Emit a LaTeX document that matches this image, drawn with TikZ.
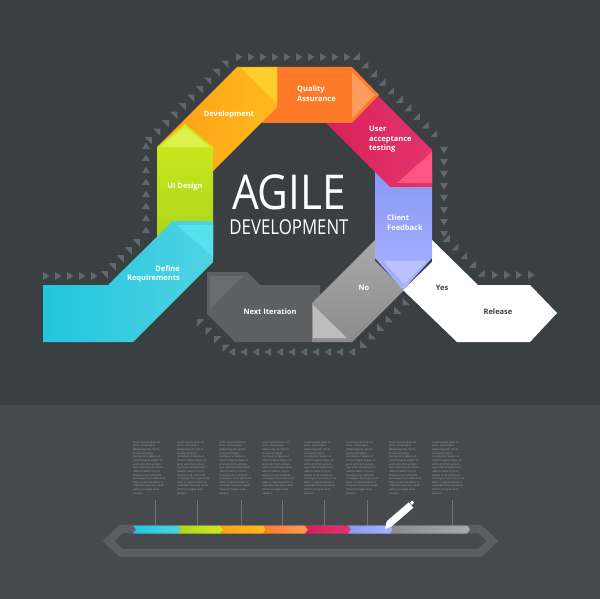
\documentclass[tikz,border=0pt]{standalone}
\usepackage{fontspec}
\setmainfont{Open Sans}
\usetikzlibrary{positioning}

\definecolor{bgtop}{HTML}{3A3F42}
\definecolor{bgbot}{HTML}{464A4D}
\definecolor{markgray}{HTML}{62676A}
\definecolor{cyA}{HTML}{22C5DE}
\definecolor{cyB}{HTML}{4FD3E2}
\definecolor{cyfold}{HTML}{55E2EE}
\definecolor{grA}{HTML}{D0EA1E}
\definecolor{grB}{HTML}{ABD61C}
\definecolor{grfold}{HTML}{DDF24A}
\definecolor{orA}{HTML}{FF9E16}
\definecolor{orB}{HTML}{FFBA1E}
\definecolor{orfold}{HTML}{FFD02C}
\definecolor{qacol}{HTML}{FF7A28}
\definecolor{qafold}{HTML}{FF9B5C}
\definecolor{redA}{HTML}{D81E58}
\definecolor{redB}{HTML}{E3346C}
\definecolor{redfold}{HTML}{FF5583}
\definecolor{blueA}{HTML}{8B99F5}
\definecolor{blueB}{HTML}{A7B2FF}
\definecolor{bluefold}{HTML}{BAC3FF}
\definecolor{nohi}{HTML}{A9A9A9}
\definecolor{nolo}{HTML}{8B8B8B}
\definecolor{nofold}{HTML}{BDBDBD}
\definecolor{nicol}{HTML}{5E5F61}
\definecolor{nifold}{HTML}{6B6C6E}
\definecolor{yesgray}{HTML}{3E4245}
\definecolor{loremgray}{HTML}{A3A7AA}
\definecolor{framegray}{HTML}{5B5F62}
\definecolor{tickgray}{HTML}{6E7376}

\tikzstyle{lbl} = [text=white,font=\bfseries\fontsize{7.5}{9.5}\selectfont,inner sep=0pt]
\tikzstyle{lbldark} = [lbl,text=yesgray]
\tikzstyle{mk} = [fill=markgray]
\tikzstyle{loremtxt} = [text=loremgray,font=\fontsize{2.6}{3.65}\selectfont,align=left,inner sep=0pt,anchor=north west]
\tikzstyle{tick} = [draw=tickgray,line width=0.7pt]

% flow markers: straight and corner ones
\newcommand{\tri}[3]{\fill[mk,shift={(#1,#2)},rotate=#3] (3.5,0) -- (-3,4) -- (-3,-4) -- cycle;}
\newcommand{\ctri}[3]{\fill[mk,shift={(#1,#2)},rotate=#3] (2.5,0) -- (-2.5,5) -- (-2.5,-5) -- cycle;}

\newcommand{\loremcol}{Lorem ipsum dolor sit\\amet, consectetur\\adipisicing elit, sed do\\eiusmod tempor\\incididunt ut labore et\\dolore magna aliqua. Ut\\enim ad minim veniam,\\quis nostrud exercitation\\ullamco laboris nisi ut\\aliquip ex ea commodo\\consequat. Duis aute irure\\dolor in reprehenderit in\\voluptate velit esse cillum\\dolore eu fugiat nulla\\pariatur.}

\begin{document}
\begin{tikzpicture}[x=1pt,y=-1pt]
    \useasboundingbox (0,0) rectangle (600,599);
    \fill[bgtop] (0,0) rectangle (600,405);
    \fill[bgbot] (0,405) rectangle (600,599);

    % markers round the loop
    \foreach \x in {46,58,70,82,94} \tri{\x}{276}{0};
    \foreach \x in {106,114,122,130,138} \ctri{\x}{379-\x}{45};
    \foreach \y in {230,218,206,194,182,170,158,146} \tri{146}{\y}{90};
    \foreach \x in {150,158.5,...,227} \ctri{\x}{289-\x}{45};
    \foreach \x in {239,251,...,347} \tri{\x}{57}{0};
    \foreach \x in {358,366.6,...,437} \ctri{\x}{\x-300}{-45};
    \foreach \y in {150,162,...,234} \tri{444}{\y}{-90};
    \foreach \x in {448,456.7,...,485} \ctri{\x}{\x-208}{-45};
    \foreach \x in {495,507,519,531} \tri{\x}{275}{0};
    \foreach \x in {232,244,...,352} \tri{\x}{352}{180};
    \foreach \x in {199,207.5,216,224.5} \ctri{\x}{\x+122}{135};
    \foreach \x in {362,370.5,...,414} \ctri{\x}{708-\x}{-135};

    % bands
    \fill[nicol] (207,272) -- (247,272) -- (260,285) -- (320,285) -- (320,342) -- (235,342) -- (207,314) -- cycle;
    \fill[nifold] (210,276) -- (243,276) -- (210,309) -- cycle;
    \shade[top color=nohi,bottom color=nolo] (375,240) -- (312,303) -- (312,342) -- (352,342) -- (404,290) -- (375,261) -- cycle;
    \fill[nofold] (313,305) -- (313,338) -- (347,338) -- cycle;
    \fill[white] (432,240) -- (478,285) -- (530,285) -- (557,313) -- (530,342) -- (457,342) -- (403,290) -- (432,262) -- cycle;
    \shade[top color=blueA,bottom color=blueB] (375,172) -- (432,172) -- (432,258) -- (403,290) -- (375,258) -- cycle;
    \fill[bluefold] (383,261) -- (427,261) -- (404,284) -- cycle;
    \shade[left color=redA,right color=redB] (330,67) -- (349,67) -- (432,150) -- (432,187) -- (390,187) -- (326,123) -- (310,123) -- cycle;
    \fill[redfold] (397,183) -- (432,152) -- (432,183) -- cycle;
    \fill[qacol] (262,67) -- (352,67) -- (379,95) -- (352,123) -- (262,123) -- cycle;
    \fill[qafold] (352,72) -- (375,95) -- (352,118) -- cycle;
    \shade[left color=orA,right color=orB] (157,147) -- (237,67) -- (277,67) -- (277,107) -- (213,171) -- (213,147) -- cycle;
    \fill[orfold] (241,68) -- (277,68) -- (277,103) -- cycle;
    \shade[top color=grA,bottom color=grB] (157,147) -- (185,124) -- (213,147) -- (213,240) -- (157,240) -- cycle;
    \fill[grfold] (160,147) -- (185,127) -- (210,147) -- cycle;
    \shade[left color=cyA,right color=cyB] (43,285) -- (108,285) -- (173,221) -- (213,221) -- (213,262) -- (133,342) -- (43,342) -- cycle;
    \fill[cyfold] (177,225) -- (213,225) -- (213,257) -- cycle;

    % labels
    \node[lbl,anchor=east,align=right] (defreq) at (180,274) {Define\\Requirements};
    \node[lbl] (uidesign) at (185,187) {UI Design};
    \node[lbl] (devel) at (229,115) {Development};
    \node[lbl,anchor=west,align=left] (qa) at (297,93.5) {Quality\\Assurance};
    \node[lbl,anchor=west,align=left] (uat) at (369,139.5) {User\\acceptance\\testing};
    \node[lbl,anchor=west,align=left] (client) at (387,222.5) {Client\\Feedback};
    \node[lbl] (no) at (364,288) {No};
    \node[lbldark] (yes) at (442,288) {Yes};
    \node[lbl] (nextit) at (270,312) {Next Iteration};
    \node[lbldark] (release) at (498,312) {Release};

    \node[text=white,inner sep=0pt] (agile) at (289,192.5) {\scalebox{0.88}[1]{\fontsize{48}{48}\selectfont AGILE}};
    \node[text=white,inner sep=0pt,below=9.3pt of agile] (devtitle) {\scalebox{0.82}[1]{\fontsize{20.5}{20.5}\selectfont DEVELOPMENT}};

    % text columns
    \foreach \x [count=\i] in {133,177,219,262,304,346,389,432}
        \node[loremtxt] (col\i) at (\x,441) {\loremcol};

    % timeline
    \draw[framegray,line width=8pt,line join=miter] (108.5,541) -- (121,529) -- (480,529) -- (492.5,541) -- (480,553) -- (121,553) -- cycle;
    \foreach \x in {155,197,241,282,324,367,452}
        \draw[tick] (\x,500) -- (\x,529);
    \foreach \a/\b/\cl/\cr in {133/178/cyA/cyB, 178/220/grB/grA, 220/263/orA/orB, 263/305/qacol/qafold, 305/348/redA/redB, 348/390/blueA/blueB, 390/467/nolo/nohi}
        \shade[left color=\cl,right color=\cr] (\a,525.5) -- (\b,525.5) -- (\b+3,529.5) -- (\b,533.5) -- (\a,533.5) -- (\a+3,529.5) -- cycle;
    \fill[white] (385,529) -- (391.3,526.7) -- (413.3,507.7) -- (408.7,502.3) -- (386.7,521.3) -- cycle;
    \fill[white] (410,503) -- (412,500.5) -- (414,502.5) -- (412,505) -- cycle;
\end{tikzpicture}
\end{document}
